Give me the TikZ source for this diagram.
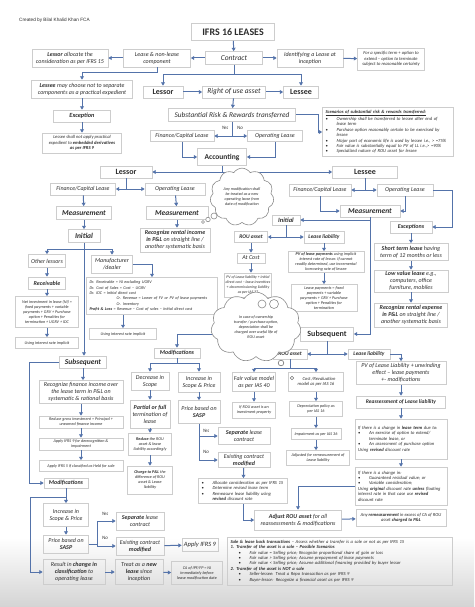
\documentclass[tikz,border=0pt]{standalone}
\usepackage{fontspec}
\setmainfont{Carlito}
\newfontfamily\creditfont{Liberation Sans}
\usetikzlibrary{arrows.meta,positioning,shapes.symbols}
\definecolor{ink}{RGB}{45,45,45}
\definecolor{edge}{RGB}{205,205,205}
\definecolor{flow}{RGB}{84,115,170}
\newcommand\blt{\makebox[11pt][l]{\textbullet}}

\begin{document}
\begin{tikzpicture}[
  x=1pt, y=-1pt,
  box/.style={draw=edge, line width=0.6pt, align=center, inner sep=1pt, text=ink,
    font=\fontsize{6}{7}\selectfont\itshape},
  note/.style={box, font=\fontsize{4.6}{5.4}\selectfont\itshape},
  mini/.style={box, font=\fontsize{4.2}{5}\selectfont\itshape},
  stage/.style={box, font=\fontsize{7.5}{8.5}\selectfont\bfseries\itshape},
  keybox/.style={box, font=\fontsize{8}{9}\selectfont\bfseries},
  listing/.style={note, align=left, inner xsep=3pt, inner ysep=2pt},
  bubble/.style={cloud, cloud puffs=11, cloud puff arc=115, draw=black!45, line width=0.6pt,
    fill=white, text=ink, align=center, inner sep=0pt, font=\fontsize{4.1}{4.9}\selectfont\itshape},
  puff/.style={circle, draw=black!45, line width=0.6pt, fill=white, inner sep=0pt},
  tag/.style={text=ink, inner sep=0pt, font=\fontsize{5}{5}\selectfont\itshape},
  arrow/.style={-{Triangle[length=3.4pt, width=3.8pt]}, line width=1pt, draw=flow},
  wire/.style={line width=1pt, draw=flow}
]
\useasboundingbox (0,0) rectangle (474,607);
\shade[top color=white, bottom color=black!17] (0,538) rectangle (474,607);

\node[anchor=west, text=ink, inner sep=0pt, font=\creditfont\fontsize{4.7}{5}\selectfont] (credit) at (19,20) {Created by Bilal Khalid Khan FCA};

% top part
\node[keybox, font=\fontsize{10}{11}\selectfont\bfseries, minimum width=83pt, minimum height=17pt] (leases) at (233,32) {IFRS 16 LEASES};
\node[box, font=\fontsize{7.5}{8}\selectfont\itshape, minimum width=57pt, minimum height=13pt] (contract) at (234,58) {Contract};
\node[box, minimum width=67pt, minimum height=18pt] (component) at (157,58) {Lease \& non-lease\\component};
\node[box, minimum width=66pt, minimum height=18pt] (identify) at (310,58) {Identifying a Lease at\\inception};
\node[note, minimum width=67pt, minimum height=22pt] (term) at (391,59) {For a specific term + option to\\extend -- option to terminate\\subject to reasonable certainty};
\node[box, minimum width=76pt, minimum height=18pt] (allocate) at (70,58) {\textbf{Lessor} allocate the\\consideration as per IFRS 15};
\node[box, minimum width=101pt, minimum height=18pt] (expedient) at (82,89) {\textbf{Lessee} may choose not to separate\\components as a practical expedient};
\node[stage, font=\fontsize{6.3}{7}\selectfont\bfseries\itshape, minimum width=57pt, minimum height=12pt] (exception) at (82,116) {Exception};
\node[note, minimum width=79pt, minimum height=20pt] (embedded) at (82,143) {Lessee shall not apply practical\\expedient to \textbf{embedded derivatives}\\\textbf{as per IFRS 9}};
\node[keybox, minimum width=40pt, minimum height=12pt] (lessor) at (163,92) {Lessor};
\node[box, font=\fontsize{7.5}{8}\selectfont\itshape, minimum width=63pt, minimum height=12pt] (rou) at (234,92) {Right of use asset};
\node[keybox, minimum width=35pt, minimum height=12pt] (lessee) at (301,92) {Lessee};
\node[box, font=\fontsize{7.3}{8}\selectfont\itshape, minimum width=127pt, minimum height=13pt] (risk) at (232,115) {Substantial Risk \& Rewards transferred};
\node[listing, text width=125pt, minimum height=49pt] (scenario) at (388,132) {\textbf{\underline{Scenarios of substantial risk \& rewards transferred:}}\\
\blt Ownership shall be transferred to lessee after end of\\
\hspace*{11pt}lease term\\
\blt Purchase option reasonably certain to be exercised by\\
\hspace*{11pt}lessee\\
\blt Major part of economic life is used by lessee i.e., > =75\%\\
\blt Fair value is substantially equal to PV of LL i.e.,> =90\%\\
\blt Specialized nature of ROU asset for lessee};
\node[box, minimum width=64pt, minimum height=11pt] (financeA) at (182,136) {Finance/Capital Lease};
\node[box, minimum width=55pt, minimum height=11pt] (operatingA) at (275,136) {Operating Lease};
\node[tag] (yesA) at (225,128) {Yes};
\node[tag] (noA) at (240,128) {No};
\node[keybox, font=\fontsize{7.5}{8}\selectfont\bfseries, minimum width=49pt, minimum height=17pt] (accounting) at (222,157) {Accounting};
\node[keybox, minimum width=52pt, minimum height=12pt] (lessorB) at (126,172) {Lessor};
\node[keybox, minimum width=65pt, minimum height=12pt] (lesseeB) at (365,172) {Lessee};

% lessor side
\node[box, minimum width=65pt, minimum height=12pt] (financeR) at (83,189) {Finance/Capital Lease};
\node[box, minimum width=60pt, minimum height=12pt] (operatingR) at (175,189) {Operating Lease};
\node[stage, minimum width=55pt, minimum height=13pt] (measureR) at (84,213) {Measurement};
\node[stage, minimum width=62pt, minimum height=13pt] (measureO) at (177,213) {Measurement};
\node[box, minimum width=70pt, minimum height=24pt] (income) at (175,240) {\textbf{Recognize rental income}\\\textbf{in P\&L} on straight line /\\another systematic basis};
\node[stage, minimum width=32pt, minimum height=13pt] (initialR) at (84,236) {Initial};
\node[box, minimum width=37pt, minimum height=13pt] (others) at (47,261) {Other lessors};
\node[box, minimum width=41pt, minimum height=18pt] (dealer) at (112,264) {Manufacturer\\/dealer};
\node[stage, font=\fontsize{6}{7}\selectfont\bfseries\itshape, minimum width=37pt, minimum height=12pt] (receivable) at (47,283) {Receivable};
\node[mini, minimum width=63pt, minimum height=31pt] (netinv) at (47,312) {Net investment in lease (NI) =\\fixed payments + variable\\payments + GRV + Purchase\\option + Penalties for\\termination + UGRV + IDC};
\node[mini, minimum width=63pt, minimum height=11pt] (implicitA) at (47,343) {Using interest rate implicit};
\node[listing, font=\fontsize{4.2}{5.3}\selectfont\itshape, text width=125pt, minimum height=37pt] (entries) at (152,296) {Dr. Receivable = NI excluding UGRV\\
Dr. Cost of Sales = Cost -- UGRV\\
Dr. IDC = Initial direct cost\\
\hspace*{27pt}Cr. Revenue = Lower of FV or PV of lease payments\\
\hspace*{27pt}Cr. Inventory\\
\textbf{Profit \& Loss} = Revenue -- Cost of sales -- Initial direct cost};
\node[mini, minimum width=67pt, minimum height=11pt] (implicitB) at (123,334) {Using interest rate implicit};
\node[stage, minimum width=47pt, minimum height=12pt] (subsequentR) at (83,362) {Subsequent};
\node[box, minimum width=84pt, minimum height=23pt] (finincome) at (81,392) {Recognize finance income over\\the lease term in P\&L on\\systematic \& rational basis};
\node[mini, minimum width=84pt, minimum height=12pt] (gross) at (81,422) {Reduce gross investment = Principal +\\unearned finance income};
\node[mini, minimum width=84pt, minimum height=12pt] (derecog) at (81,444) {Apply IFRS 9 for derecognition \&\\impairment};
\node[mini, minimum width=84pt, minimum height=11pt] (heldsale) at (81,466) {Apply IFRS 5 if classified as Held for sale};
\node[stage, font=\fontsize{6}{7}\selectfont\bfseries\itshape, minimum width=44pt, minimum height=10pt] (modifyR) at (66,483) {Modifications};
\node[box, minimum width=45pt, minimum height=23pt] (increaseR) at (66,515) {Increase in\\Scope \& Price};
\node[box, minimum width=45pt, minimum height=18pt] (sasR) at (66,544) {Price based on\\\textbf{SASP}};
\node[box, minimum width=48pt, minimum height=18pt] (separateR) at (140,521) {\textbf{Separate} lease\\contract};
\node[box, minimum width=48pt, minimum height=18pt] (existingR) at (140,546) {Existing contract\\\textbf{modified}};
\node[tag] (yesR) at (105,514) {Yes};
\node[tag] (noR) at (105,538) {No};
\node[box, font=\fontsize{6.5}{7}\selectfont\itshape, minimum width=36pt, minimum height=13pt] (applynine) at (200,545) {Apply IFRS 9};
\node[box, minimum width=62pt, minimum height=25pt] (reclass) at (74,572) {Result in \textbf{change in}\\\textbf{classification} to\\operating lease};
\node[box, minimum width=48pt, minimum height=25pt] (newlease) at (139,572) {Treat as a \textbf{new}\\\textbf{lease} since\\inception};
\node[mini, minimum width=51pt, minimum height=23pt] (carrying) at (197,573) {CA of IPF/FP = NI\\immediately before\\lease modification date};

% lessee side
\node[box, minimum width=62pt, minimum height=12pt] (financeE) at (320,190) {Finance/Capital Lease};
\node[box, minimum width=56pt, minimum height=12pt] (operatingE) at (405,190) {Operating Lease};
\node[stage, minimum width=60pt, minimum height=12pt] (measureE) at (370,211) {Measurement};
\node[stage, font=\fontsize{6}{7}\selectfont\bfseries\itshape, minimum width=42pt, minimum height=12pt] (exceptions) at (411,227) {Exceptions};
\node[box, minimum width=74pt, minimum height=17pt] (shortterm) at (411,252) {\textbf{Short term lease} having\\term of 12 months or less};
\node[box, minimum width=74pt, minimum height=22pt] (lowvalue) at (411,281) {\textbf{Low value lease} e.g.,\\computers, office\\furniture, mobiles};
\node[box, minimum width=73pt, minimum height=24pt] (expense) at (411,315) {\textbf{Recognize rental expense}\\\textbf{in P\&L} on straight line /\\another systematic basis};
\node[stage, font=\fontsize{6.5}{7}\selectfont\bfseries\itshape, minimum width=28pt, minimum height=10pt] (initialE) at (286,220) {Initial};
\node[stage, font=\fontsize{5.5}{6}\selectfont\bfseries\itshape, minimum width=33pt, minimum height=11pt] (rouI) at (251,237) {ROU asset};
\node[stage, font=\fontsize{5.5}{6}\selectfont\bfseries\itshape, minimum width=40pt, minimum height=12pt] (liabilityI) at (324,237) {Lease liability};
\node[box, minimum width=28pt, minimum height=10pt] (atcost) at (251,258) {At Cost};
\node[mini, font=\fontsize{3.9}{4.8}\selectfont\itshape, minimum width=46pt, minimum height=24pt] (rouvalue) at (248,285) {PV of Lease liability + initial\\direct cost -- lease incentives\\+ decommissioning liability\\as per IAS 37};
\node[mini, minimum width=76pt, minimum height=21pt] (pvpay) at (326,262) {\textbf{PV of lease payments} using implicit\\interest rate of lessor. If cannot\\readily determined, use incremental\\borrowing rate of lessee};
\node[mini, minimum width=66pt, minimum height=27pt] (payments) at (324,298) {Lease payments = fixed\\payments + variable\\payments + GRV + Purchase\\option + Penalties for\\termination};
\node[keybox, minimum width=53pt, minimum height=14pt] (subsequentE) at (327,334) {Subsequent};
\node[stage, font=\fontsize{6}{7}\selectfont\bfseries\itshape, minimum width=46pt, minimum height=10pt] (modifyE) at (177,353) {Modifications};
\node[box, minimum width=38pt, minimum height=18pt] (decrease) at (150,381) {Decrease in\\Scope};
\node[box, minimum width=42pt, minimum height=20pt] (increaseE) at (199,382) {Increase in\\Scope \& Price};
\node[box, minimum width=40pt, minimum height=28pt] (partial) at (150,414) {\textbf{Partial or full}\\termination of\\lease};
\node[mini, minimum width=43pt, minimum height=22pt] (reduce) at (150,444) {\textbf{Reduce} the ROU\\asset \& lease\\liability accordingly};
\node[mini, minimum width=45pt, minimum height=28pt] (charge) at (150,480) {\textbf{Charge to P\&L} the\\difference of ROU\\asset \& Lease\\liability};
\node[box, minimum width=42pt, minimum height=23pt] (sasE) at (199,412) {Price based on\\\textbf{SASP}};
\node[box, minimum width=52pt, minimum height=17pt] (separateE) at (244,436) {\textbf{Separate} lease\\contract};
\node[box, minimum width=52pt, minimum height=15pt] (existingE) at (244,460) {Existing contract\\\textbf{modified}};
\node[tag] (yesE) at (206,431) {Yes};
\node[tag] (noE) at (206,452) {No};
\node[listing, text width=83pt, minimum height=25pt] (revise) at (243,491) {\blt Allocate consideration as per IFRS 15\\
\blt Determine revised lease term\\
\blt Remeasure lease liability using\\
\hspace*{11pt}\textbf{revised} discount rate};
\node[box, minimum width=87pt, minimum height=20pt] (adjust) at (298,520) {\textbf{Adjust ROU asset} for all\\reassessments \& modifications};
\node[note, minimum width=90pt, minimum height=17pt] (excess) at (401,518) {Any \textbf{remeasurement} in excess of CA of ROU\\asset \textbf{charged to P\&L}};
\node[listing, text width=219pt, minimum height=48pt] (saleback) at (340,561) {\textbf{Sale \& lease back transactions} -- Assess whether a transfer is a sale or not as per IFRS 15\\
\textbf{1. Transfer of the asset is a sale -- Possible Scenarios}\\
\hspace*{8pt}\blt Fair value = Selling price; Recognize proportional share of gain or loss\\
\hspace*{8pt}\blt Fair value > Selling price; Assume prepayment of lease payments\\
\hspace*{8pt}\blt Fair value < Selling price; Assume additional financing provided by buyer lessor\\
\textbf{2. Transfer of the asset is NOT a sale}\\
\hspace*{8pt}\blt Seller-lessee: Treat a Repo transaction as per IFRS 9\\
\hspace*{8pt}\blt Buyer-lessor: Recognize a financial asset as per IFRS 9};
\node[stage, font=\fontsize{5.5}{6}\selectfont\bfseries\itshape, minimum width=34pt, minimum height=10pt] (rouS) at (290,354) {ROU asset};
\node[stage, font=\fontsize{5.5}{6}\selectfont\bfseries\itshape, minimum width=42pt, minimum height=10pt] (liabilityS) at (369,354) {Lease liability};
\node[box, minimum width=43pt, minimum height=19pt] (fairvalue) at (254,382) {Fair value model\\as per IAS 40};
\node[mini, minimum width=43pt, minimum height=16pt] (investment) at (254,410) {If ROU asset is an\\investment property};
\node[note, minimum width=55pt, minimum height=19pt] (costmodel) at (316,382) {\hspace*{6pt}Cost /Revaluation\\model as per IAS 16};
\node[mini, minimum width=53pt, minimum height=15pt] (depreciation) at (316,409) {Depreciation policy as\\per IAS 16};
\node[mini, minimum width=50pt, minimum height=11pt] (impairment) at (316,434) {Impairment as per IAS 36};
\node[mini, minimum width=63pt, minimum height=15pt] (remeasure) at (318,458) {Adjusted for remeasurement of\\Lease liability};
\node[box, minimum width=90pt, minimum height=23pt] (unwinding) at (401,373) {PV of Lease Liability + unwinding\\effect -- lease payments\\+- modifications};
\node[stage, font=\fontsize{5.5}{6}\selectfont\bfseries\itshape, minimum width=89pt, minimum height=12pt] (reassess) at (401,402) {Reassessment of Lease liability};
\node[listing, text width=86pt, minimum height=40pt] (termchange) at (401,439) {If there is a change in \textbf{lease term} due to:\\
\blt An exercise of option to extend/\\
\hspace*{11pt}terminate lease, or\\
\blt An assessment of purchase option\\
Using \textbf{revised} discount rate};
\node[listing, text width=86pt, minimum height=38pt] (valuechange) at (401,486) {If there is a change in:\\
\blt Guaranteed residual value; or\\
\blt Variable consideration;\\
Using \textbf{original} discount rate \textbf{unless} floating\\
interest rate in that case use \textbf{revised}\\
discount rate};

% connectors, top
\draw[arrow] (leases) -- (contract);
\draw[arrow] (contract) -- (component);
\draw[arrow] (contract) -- (identify);
\draw[arrow] (identify) -- (term);
\draw[arrow] (component) -- (allocate);
\draw[arrow] (component.south) -- ++(0,5) -| (expedient.north);
\draw[arrow] (expedient) -- (exception);
\draw[arrow] (exception) -- (embedded);
\draw[arrow] (contract.south) -- ++(0,10) -| (lessor.north);
\draw[arrow] (contract.south) -- ++(0,10) -| (lessee.north);
\draw[arrow] (lessor) -- (rou);
\draw[arrow] (rou) -- (lessee);
\draw[arrow] (rou) -- (risk);
\draw[arrow] (risk.east) -- ++(23,0) |- (scenario.west);
\draw[arrow] (risk.south) |- (financeA.east);
\draw[arrow] (risk.south) |- (operatingA.west);
\draw[arrow] (financeA.south) |- (accounting.west);
\draw[arrow] (operatingA.south) |- (accounting.east);
\draw[arrow] (accounting.south) |- (lessorB.east);
\draw[arrow] (accounting.south) |- (lesseeB.west);

% connectors, lessor
\draw[arrow] (lessorB.south) |- (financeR.east);
\draw[arrow] (lessorB.south) |- (operatingR.west);
\draw[arrow] (financeR) -- (measureR);
\draw[arrow] (operatingR) -- (measureO);
\draw[arrow] (measureO) -- (measureO |- income.north);
\draw[arrow] (measureR) -- (initialR);
\draw[arrow] (initialR.south) -- ++(0,7) -| (others.north);
\draw[arrow] (initialR.south) -- ++(0,7) -| (dealer.north);
\draw[arrow] (initialR.south) -- (initialR.south |- subsequentR.north);
\draw[arrow] (others) -- (receivable);
\draw[arrow] (receivable) -- (netinv);
\draw[arrow] (netinv) -- (implicitA);
\draw[arrow] (dealer.east) -| (entries.north);
\draw[arrow] (entries.south -| implicitB.north) -- (implicitB.north);
\draw[arrow] (subsequentR.south) -- (subsequentR.south |- finincome.north);
\draw[arrow] (finincome) -- (gross);
\draw[arrow] (gross) -- (derecog);
\draw[arrow] (derecog) -- (heldsale);
\draw[arrow] (subsequentR.west) -- ++(-30,0) |- (modifyR.west);
\draw[arrow] (modifyR) -- (increaseR);
\draw[arrow] (modifyR.south) -- ++(0,9) -- ++(-36,0) |- (reclass.west);
\draw[arrow] (increaseR) -- (sasR);
\draw[arrow] (sasR.east) -- ++(9,0) |- (separateR.west);
\draw[arrow] (sasR.east) -- ++(9,0) |- (existingR.west);
\draw[arrow] (existingR) -- (applynine);
\draw[arrow] (reclass) -- (newlease);
\draw[arrow] (newlease) -- (carrying);

% connectors, lessee
\draw[arrow] (lesseeB.south) |- (financeE.east);
\draw[arrow] (lesseeB.south) |- (operatingE.west);
\draw[arrow] (financeE.south) |- (measureE.west);
\draw[arrow] (operatingE.south) |- (measureE.east);
\draw[arrow] (operatingE.east) -- ++(19,0) |- (exceptions.east);
\draw[arrow] (exceptions) -- (shortterm);
\draw[arrow] (shortterm) -- (lowvalue);
\draw[arrow] (lowvalue) -- (expense);
\draw[arrow] (measureE.south) |- (initialE.east);
\draw[arrow] (measureE.south) |- (subsequentE.east);
\draw[arrow] (initialE.south) |- (rouI.east);
\draw[arrow] (initialE.south) |- (liabilityI.west);
\draw[arrow] (rouI) -- (atcost);
\draw[arrow] (atcost.south) -- (atcost.south |- rouvalue.north);
\draw[arrow] (liabilityI) -- (liabilityI |- pvpay.north);
\draw[arrow] (liabilityI |- pvpay.south) -- (liabilityI |- payments.north);
\draw[arrow] (subsequentE.west) -| (modifyE.north);
\draw[arrow] (subsequentE.south) |- (rouS.east);
\draw[arrow] (subsequentE.south) |- (liabilityS.west);
\draw[arrow] (modifyE.south) -- ++(0,5) -| (decrease.north);
\draw[arrow] (modifyE.south) -- ++(0,5) -| (increaseE.north);
\draw[arrow] (decrease) -- (partial);
\draw[arrow] (partial) -- (reduce);
\draw[arrow] (reduce) -- (charge);
\draw[arrow] (increaseE) -- (sasE);
\draw[arrow] (sasE.south) |- (separateE.west);
\draw[arrow] (sasE.south) |- (existingE.west);
\draw[arrow] (existingE) -- (revise);
\draw[arrow] (revise.south) |- (adjust.west);
\draw[arrow] (adjust) -- (excess);
\draw[arrow] (rouS.south) -- ++(0,9) -| (fairvalue.north);
\draw[arrow] (rouS.south) -- ++(0,9) -| (costmodel.north);
\draw[arrow] (fairvalue) -- (investment);
\draw[arrow] (costmodel) -- (depreciation);
\draw[arrow] (depreciation) -- (impairment);
\draw[arrow] (impairment.south) -- (impairment.south |- remeasure.north);
\draw[arrow] (liabilityS.east) -| (unwinding.north);
\draw[arrow] (unwinding) -- (reassess);
\draw[arrow] (reassess) -- (termchange);
\draw[arrow] (termchange) -- (valuechange);
\draw[arrow] (valuechange.west) -| (adjust.north);
\draw[draw=black!55, fill=white, line width=0.6pt] (281,363) circle (2.8);
\draw[draw=black!55, line width=0.5pt] (292,378) circle (1.8);

% thought clouds
\node[bubble, minimum width=64pt, minimum height=45pt] (cloudA) at (242,197) {Any modification shall\\be treated as a new\\operating lease from\\date of modification};
\node[puff, minimum size=6pt] (puffA1) at (214,216) {};
\node[puff, minimum size=4.5pt] (puffA2) at (208,219.5) {};
\node[puff, minimum size=3pt] (puffA3) at (203,222) {};
\node[bubble, minimum width=90pt, minimum height=37pt] (cloudB) at (256,327) {In case of ownership\\transfer / purchase option,\\depreciation shall be\\charged over useful life of\\ROU asset};
\node[puff, minimum width=8pt, minimum height=5pt] (puffB1) at (262,304) {};
\node[puff, minimum width=9pt, minimum height=5.5pt] (puffB2) at (274,304) {};
\end{tikzpicture}
\end{document}
